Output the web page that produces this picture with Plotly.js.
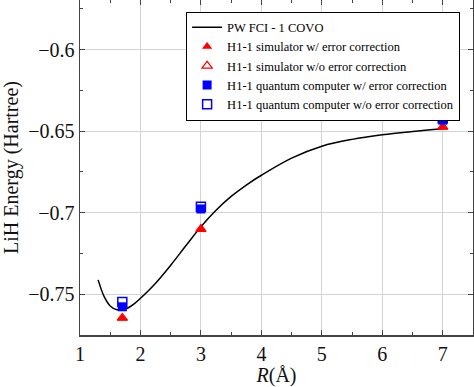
<!DOCTYPE html>
<html><head><meta charset="utf-8">
<script src="https://cdn.plot.ly/plotly-3.0.1.min.js"></script>
<style>body{margin:0;background:#fff}#c{width:474px;height:387px}</style>
</head><body><div id="c"></div>
<script>
// PW FCI - 1 COVO reference curve
const curveR = [1.3, 1.4, 1.5, 1.6, 1.7, 1.8, 1.9, 2.0, 2.25, 2.5, 2.75, 3.0, 3.25, 3.5, 3.75, 4.0, 4.5, 5.0, 5.5, 6.0, 6.5, 7.0];
const curveE = [-0.7412, -0.7515, -0.7572, -0.7594, -0.7596, -0.7583, -0.7558, -0.7525, -0.7432, -0.7322, -0.7203, -0.7086, -0.6985, -0.6900, -0.6830, -0.6770, -0.6665, -0.6592, -0.6550, -0.6522, -0.6502, -0.6485];
// measured points
const pointR = [1.7, 3.0, 7.0];
const simEC   = [-0.7647, -0.7102, -0.6475];
const simNoEC = [-0.7645, -0.7100, -0.6473];
const qcEC    = [-0.7577, -0.6977, -0.6432];
const qcNoEC  = [-0.7548, -0.6963, -0.6422];
const xTicks = [1, 2, 3, 4, 5, 6, 7];
const yTicks = [-0.75, -0.7, -0.65, -0.6];
const yTickText = ['\u22120.75', '\u22120.7', '\u22120.65', '\u22120.6'];

const SERIF = 'Liberation Serif';
const traces = [
  {x: curveR, y: curveE, mode: 'lines', name: 'PW FCI - 1 COVO', line: {color: '#000', width: 1.5, shape: 'spline'}},
  {x: pointR, y: simEC, mode: 'markers', name: 'H1-1 simulator w/ error correction', marker: {symbol: 'triangle-up', size: 9, color: '#ff0000'}},
  {x: pointR, y: simNoEC, mode: 'markers', name: 'H1-1 simulator w/o error correction', marker: {symbol: 'triangle-up-open', size: 9, color: '#ff0000', line: {width: 1.2}}},
  {x: pointR, y: qcEC, mode: 'markers', name: 'H1-1 quantum computer w/ error correction', marker: {symbol: 'square', size: 9, color: '#0000ff'}},
  {x: pointR, y: qcNoEC, mode: 'markers', name: 'H1-1 quantum computer w/o error correction', marker: {symbol: 'square-open', size: 9, color: '#0000ff', line: {width: 1.5}}}
];
const axisCommon = {
  showline: true, linecolor: '#444', linewidth: 1.5, mirror: 'ticks',
  ticks: 'inside', ticklen: 5, tickcolor: '#444', tickwidth: 1,
  showgrid: true, gridcolor: '#d3d3d3', gridwidth: 1, zeroline: false,
  tickfont: {family: SERIF, size: 20, color: '#111'}
};
const layout = {
  width: 474, height: 387,
  font: {family: SERIF},
  margin: {l: 80, r: 1, t: 0, b: 52, autoexpand: false},
  paper_bgcolor: '#fff', plot_bgcolor: '#fff',
  showlegend: true,
  xaxis: Object.assign({}, axisCommon, {
    range: [1, 7.5], tickvals: xTicks, ticktext: xTicks.map(String),
    minor: {dtick: 0.5, tick0: 1, ticks: 'inside', ticklen: 3, tickcolor: '#444', showgrid: false},
    title: {text: '<i>R</i>(Å)', font: {family: SERIF, size: 20, color: '#111'}, standoff: 4}
  }),
  yaxis: Object.assign({}, axisCommon, {
    range: [-0.775, -0.5695], tickvals: yTicks, ticktext: yTickText,
    minor: {dtick: 0.025, tick0: -0.775, ticks: 'inside', ticklen: 3, tickcolor: '#444', showgrid: false},
    title: {text: 'LiH Energy (Hartree)', font: {family: SERIF, size: 20, color: '#111'}, standoff: 4}
  }),
  legend: {
    x: 0.27, y: 0.965, xanchor: 'left', yanchor: 'top',
    bgcolor: '#fff', bordercolor: '#000', borderwidth: 1,
    font: {family: SERIF, size: 12.5, color: '#000'},
    itemwidth: 30, tracegroupgap: 0
  }
};
Plotly.newPlot('c', traces, layout, {displayModeBar: false, staticPlot: true});
</script></body></html>
